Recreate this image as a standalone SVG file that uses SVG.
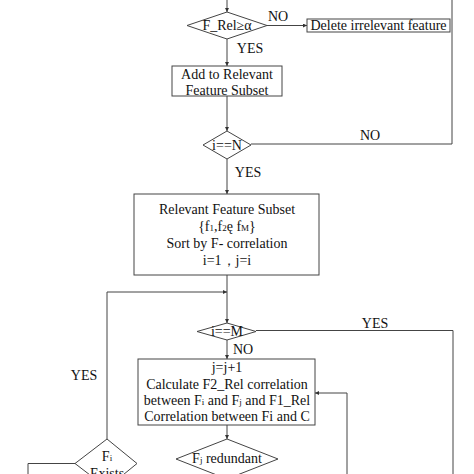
<svg xmlns="http://www.w3.org/2000/svg" width="474" height="474" viewBox="0 0 474 474">
<defs>
<marker id="ah" markerWidth="4" markerHeight="4" refX="4" refY="2" orient="auto" markerUnits="userSpaceOnUse">
<path d="M0,0 L4,2 L0,4 Z" fill="#333"/>
</marker>
<style>
.n{fill:#fff;stroke:#444;stroke-width:1}
.c{fill:none;stroke:#444;stroke-width:1}
text{font-family:"Liberation Serif","Times New Roman",serif;font-size:14px;fill:#111;text-anchor:middle}
.l{text-anchor:start}
</style>
</defs>
<rect width="474" height="474" fill="#fff"/>
<g id="connectors">
<path class="c" d="M227,0 V12" marker-end="url(#ah)"/>
<path class="c" d="M267,25.5 H307" marker-end="url(#ah)"/>
<path class="c" d="M452,0 V144 H251"/>
<path class="c" d="M227,39 V66" marker-end="url(#ah)"/>
<path class="c" d="M227,96 V131" marker-end="url(#ah)"/>
<path class="c" d="M227,159 V194" marker-end="url(#ah)"/>
<path class="c" d="M227,275 V323" marker-end="url(#ah)"/>
<path class="c" d="M107,439 V292 H227" marker-end="url(#ah)"/>
<path class="c" d="M256,330.5 H453 V474"/>
<path class="c" d="M227,340 V359" marker-end="url(#ah)"/>
<path class="c" d="M347,474 V393 H315" marker-end="url(#ah)"/>
<path class="c" d="M227,425 V439" marker-end="url(#ah)"/>
<path class="c" d="M75,463.5 H28 V474"/>
<text x="278" y="21">NO</text>
<text x="250" y="53">YES</text>
<text x="370" y="140">NO</text>
<text x="248" y="177">YES</text>
<text x="375" y="328">YES</text>
<text x="243" y="354">NO</text>
<text x="84" y="380">YES</text>
</g>
<g id="n_frel">
<path class="n" d="M227,12 L267,25.5 L227,39 L187,25.5 Z"/>
<text x="227" y="30">F_Rel≥α</text>
</g>
<g id="n_delete">
<rect class="n" x="307" y="19" width="143" height="13"/>
<text x="378.5" y="30">Delete irrelevant feature</text>
</g>
<g id="n_add">
<rect class="n" x="172" y="66" width="110" height="30"/>
<text x="227" y="79">Add to Relevant</text>
<text x="227" y="95">Feature Subset</text>
</g>
<g id="n_iN">
<path class="n" d="M227,131 L251,145 L227,159 L203,145 Z"/>
<text x="227" y="150">i==N</text>
</g>
<g id="n_subset">
<rect class="n" x="134" y="194" width="185" height="81"/>
<text x="227" y="214">Relevant Feature Subset</text>
<text x="227" y="231">{f<tspan font-size="9">1</tspan>,f<tspan font-size="9">2</tspan>ę  f<tspan font-size="9">M</tspan>}</text>
<text x="227" y="248">Sort by F- correlation</text>
<text x="227" y="265">i=1，j=i</text>
</g>
<g id="n_iM">
<path class="n" d="M227,323 L256,331.5 L227,340 L197,331.5 Z"/>
<text x="227" y="336">i==M</text>
</g>
<g id="n_calc">
<rect class="n" x="138" y="359" width="177" height="66"/>
<text x="227" y="372">j=j+1</text>
<text x="227" y="389">Calculate F2_Rel correlation</text>
<text x="227" y="405">between F<tspan font-size="9">i</tspan> and F<tspan font-size="9">j</tspan> and F1_Rel</text>
<text x="227" y="421">Correlation between Fi and C</text>
</g>
<g id="n_redundant">
<path class="n" d="M227,439 L278,459 L227,479 L176,459 Z"/>
<text x="227" y="463">F<tspan font-size="9">j</tspan> redundant</text>
</g>
<g id="n_exists">
<path class="n" d="M107,439 L137,463.5 L107,488 L75,463.5 Z"/>
<text x="107" y="461">F<tspan font-size="9">i</tspan></text>
<text x="107" y="478">Exists</text>
</g>
</svg>
